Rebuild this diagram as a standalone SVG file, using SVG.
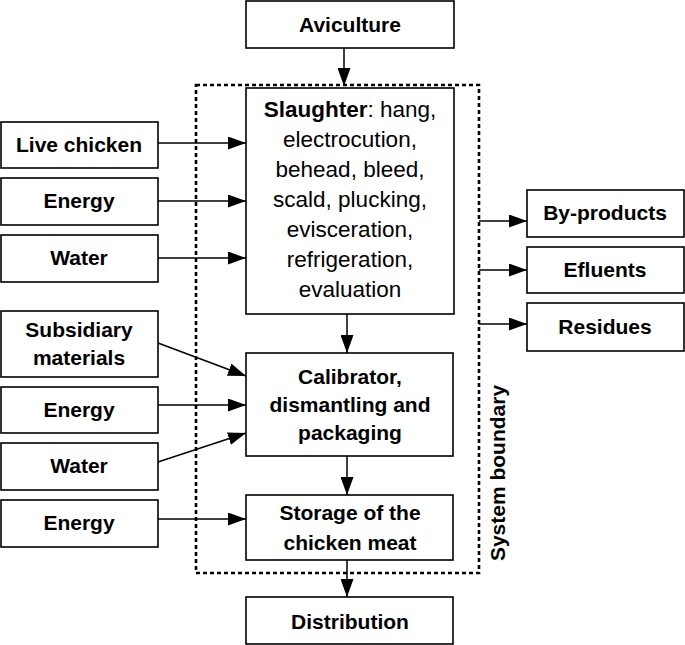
<svg xmlns="http://www.w3.org/2000/svg" width="685" height="645" viewBox="0 0 685 645">
<style>
.box{fill:#fff;stroke:#000;stroke-width:1.6}
.t{font-family:"Liberation Sans",Arial,sans-serif;font-size:21px;font-weight:bold;text-anchor:middle;fill:#000}
.r{font-weight:normal;font-size:22.5px}
.c{stroke:#000;stroke-width:1.5;fill:none;marker-end:url(#ah)}
.bd{fill:none;stroke:#000;stroke-width:2.6;stroke-dasharray:4 3}
</style>
<defs>
<marker id="ah" viewBox="0 0 18 13" refX="18" refY="6.5" markerWidth="18" markerHeight="13" markerUnits="userSpaceOnUse" orient="auto">
<path d="M0,0 L18,6.5 L0,13 Z" fill="#000"/>
</marker>
</defs>
<rect id="boundary" class="bd" x="196" y="85" width="283" height="488"/>
<text class="t" transform="translate(505,473) rotate(-90)">System boundary</text>
<g id="connectors">
<line class="c" x1="344" y1="48" x2="344" y2="86"/>
<line class="c" x1="158" y1="143" x2="246" y2="143"/>
<line class="c" x1="158" y1="201" x2="246" y2="201"/>
<line class="c" x1="158" y1="258" x2="246" y2="258"/>
<line class="c" x1="347" y1="314" x2="347" y2="353"/>
<line class="c" x1="158" y1="343" x2="246" y2="376"/>
<line class="c" x1="158" y1="405" x2="246" y2="405"/>
<line class="c" x1="158" y1="462" x2="246" y2="433"/>
<line class="c" x1="347" y1="456" x2="347" y2="495"/>
<line class="c" x1="158" y1="519" x2="246" y2="519"/>
<line class="c" x1="347" y1="560" x2="347" y2="597"/>
<line class="c" x1="479" y1="221" x2="527" y2="221"/>
<line class="c" x1="479" y1="270" x2="527" y2="270"/>
<line class="c" x1="479" y1="324" x2="527" y2="324"/>
</g>
<g id="aviculture"><rect class="box" x="246" y="1" width="208" height="47"/><text class="t" x="350" y="32">Aviculture</text></g>
<g id="slaughter"><rect class="box" x="246" y="88" width="208" height="226"/>
<text class="t r" x="350" y="117"><tspan font-weight="bold">Slaughter</tspan>: hang,</text>
<text class="t r" x="350" y="147">electrocution,</text>
<text class="t r" x="350" y="177">behead, bleed,</text>
<text class="t r" x="350" y="207">scald, plucking,</text>
<text class="t r" x="350" y="237">evisceration,</text>
<text class="t r" x="350" y="267">refrigeration,</text>
<text class="t r" x="350" y="297">evaluation</text>
</g>
<g id="calibrator"><rect class="box" x="246" y="353" width="207" height="103"/>
<text class="t" x="350" y="384">Calibrator,</text>
<text class="t" x="350" y="412">dismantling and</text>
<text class="t" x="350" y="440">packaging</text>
</g>
<g id="storage"><rect class="box" x="246" y="495" width="207" height="65"/>
<text class="t" x="350" y="520">Storage of the</text>
<text class="t" x="350" y="550">chicken meat</text>
</g>
<g id="distribution"><rect class="box" x="246" y="597" width="207" height="47"/><text class="t" x="350" y="629">Distribution</text></g>
<g id="live-chicken"><rect class="box" x="1" y="122" width="157" height="46"/><text class="t" x="79" y="152">Live chicken</text></g>
<g id="energy1"><rect class="box" x="1" y="178" width="157" height="47"/><text class="t" x="79" y="208">Energy</text></g>
<g id="water1"><rect class="box" x="1" y="235" width="157" height="47"/><text class="t" x="79" y="265">Water</text></g>
<g id="subsidiary"><rect class="box" x="1" y="311" width="157" height="66"/><text class="t" x="79" y="337">Subsidiary</text><text class="t" x="79" y="365">materials</text></g>
<g id="energy2"><rect class="box" x="1" y="387" width="157" height="46"/><text class="t" x="79" y="417">Energy</text></g>
<g id="water2"><rect class="box" x="1" y="443" width="157" height="47"/><text class="t" x="79" y="473">Water</text></g>
<g id="energy3"><rect class="box" x="1" y="500" width="157" height="47"/><text class="t" x="79" y="530">Energy</text></g>
<g id="by-products"><rect class="box" x="527" y="190" width="157" height="47"/><text class="t" x="605" y="220">By-products</text></g>
<g id="efluents"><rect class="box" x="527" y="247" width="157" height="46"/><text class="t" x="605" y="277">Efluents</text></g>
<g id="residues"><rect class="box" x="527" y="303" width="157" height="48"/><text class="t" x="605" y="334">Residues</text></g>
</svg>
